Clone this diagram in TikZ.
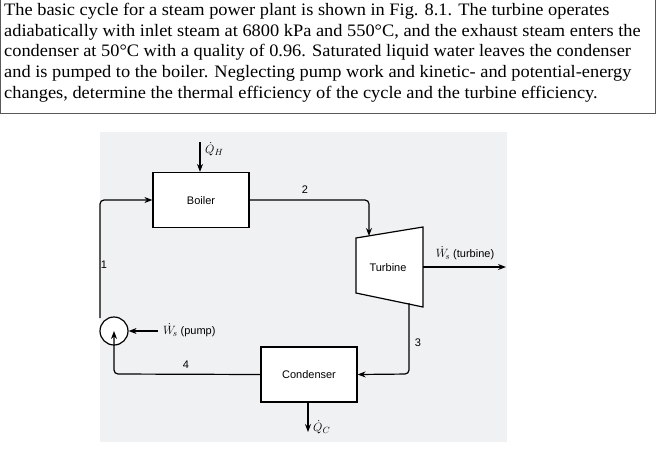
\documentclass[tikz,border=0pt]{standalone}
\usetikzlibrary{arrows.meta}
\usepackage{fontspec}
\setmainfont{Liberation Serif}
\setsansfont{Liberation Sans}
\newfontfamily\parafont[FakeStretch=1.05]{Liberation Serif}
\definecolor{bgc}{RGB}{240,241,243}
\begin{document}
\begin{tikzpicture}[x=1pt,y=-1pt,
  blk/.style={draw,line width=1.2pt,fill=white},
  lbl/.style={font=\sffamily\fontsize{11}{13}\selectfont,inner sep=0pt},
  mlbl/.style={font=\sffamily\fontsize{13}{15}\selectfont,inner sep=1pt},
  flow/.style={line width=1.2pt,-{Stealth[length=8pt,width=6pt]},rounded corners=4pt},
  para/.style={anchor=west,inner sep=0pt,font=\parafont\fontsize{17.5}{19}\selectfont}]
\useasboundingbox (0,0) rectangle (663,458);
\fill[white] (0,0) rectangle (663,458);
\draw[gray!70!black,line width=0.8pt] (0.5,-2) -- (0.5,113) -- (655,113) -- (655,-2);
\node[para] (t1) at (4,11) {The basic cycle for a steam power plant is shown in Fig. 8.1. The turbine operates};
\node[para] (t2) at (4,32) {adiabatically with inlet steam at 6800 kPa and 550°C, and the exhaust steam enters the};
\node[para] (t3) at (4,52) {condenser at 50°C with a quality of 0.96. Saturated liquid water leaves the condenser};
\node[para] (t4) at (4,73) {and is pumped to the boiler. Neglecting pump work and kinetic- and potential-energy};
\node[para] (t5) at (4,94) {changes, determine the thermal efficiency of the cycle and the turbine efficiency.};
\fill[bgc] (100,132) rectangle (507,442);
\node[blk,minimum width=96pt,minimum height=55pt] (boiler) at (201,200) {};
\node[lbl] (boilt) at (201,201) {Boiler};
\node[blk,minimum width=96pt,minimum height=55pt] (cond) at (309,374.5) {};
\node[lbl] (condt) at (309,375) {Condenser};
\draw[blk] (356,238) -- (423,227) -- (423,307) -- (356,293) -- cycle;
\coordinate (turbR) at (423,267);
\coordinate (turbT) at (369,236);
\coordinate (turbB) at (409,303);
\node[lbl] (turbt) at (388,268) {Turbine};
\node[draw,circle,line width=1.2pt,fill=white,minimum size=28pt,inner sep=0pt] (pump) at (114,331) {};
\coordinate (p1) at (100,318);
\draw[flow] (p1) -- (100,200) -- (boiler.west);
\draw[flow] (boiler.east) -- (369,200) -- (turbT);
\draw[flow] (turbB) -- (409,374) -- (cond.east);
\draw[flow] (cond.west) -- (114,374) -- (pump.center);
\coordinate (qh) at (200,142);
\draw[flow] (qh) -- (boiler.north -| qh);
\coordinate (qc) at (308,432);
\draw[flow] (cond.south -| qc) -- (qc);
\coordinate (wt) at (506,267);
\draw[flow] (turbR) -- (wt);
\coordinate (wp) at (158,331);
\draw[flow] (wp) -- (pump.east);
\node[lbl] (l1) at (104,265) {1};
\node[lbl] (l2) at (305,190) {2};
\node[lbl] (l3) at (418,343) {3};
\node[lbl] (l4) at (186,365) {4};
\node[mlbl,anchor=west] (lqh) at (204,149) {$\dot Q_H$};
\node[mlbl,anchor=west] (lqc) at (312,427) {$\dot Q_C$};
\node[lbl] (lwt) at (465,253) {{\fontsize{13}{15}\selectfont$\dot W_{\!s}$} (turbine)};
\node[lbl,anchor=west] (lwp) at (163,330) {{\fontsize{13}{15}\selectfont$\dot W_{\!s}$} (pump)};
\end{tikzpicture}
\end{document}
